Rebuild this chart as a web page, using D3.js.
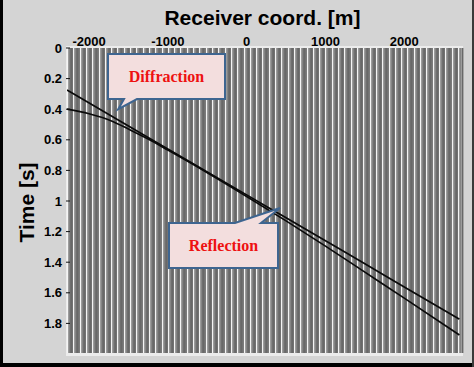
<!DOCTYPE html>
<html>
<head>
<meta charset="utf-8">
<script src="https://cdn.jsdelivr.net/npm/d3@7"></script>
<style>
  html, body { margin: 0; padding: 0; background: #d4d4d4; }
  svg { display: block; }
</style>
</head>
<body>
<svg id="chart" width="474" height="367"></svg>
<script>
// ---------- data ----------
const xTicks = [-2000, -1000, 0, 1000, 2000];
const yTicks = [0, 0.2, 0.4, 0.6, 0.8, 1, 1.2, 1.4, 1.6, 1.8];
const xTickLabels = ["-2000", "-1000", "0", "1000", "2000"];
const yTickLabels = ["0", "0.2", "0.4", "0.6", "0.8", "1", "1.2", "1.4", "1.6", "1.8"];

// trace (receiver) positions in m
const traceStart = -2280, traceEnd = 2720, traceStep = 80;

// reflection event: starts at 0.275 s on the left (near-linear moveout)
const reflX = [-2280, -1500, -1000, -500, 0, 500, 1000, 1500, 2000, 2700];
const reflT = [0.275, 0.51, 0.66, 0.81, 0.96, 1.11, 1.26, 1.41, 1.562, 1.772];
// diffraction event: starts at 0.40 s on the left (hyperbolic, tangent to reflection)
const diffX = [-2280, -2000, -1700, -1500, -1250, -1000, -500, 0, 500, 1000, 1500, 2000, 2700];
const diffT = [0.40, 0.43, 0.48, 0.53, 0.595, 0.667, 0.815, 0.97, 1.13, 1.295, 1.465, 1.635, 1.876];

const calloutLabels = ["Diffraction", "Reflection"];

// ---------- drawing ----------
const svg = d3.select("#chart");
const W = 474, H = 367;

const x = d3.scaleLinear().domain([-2280, 2720]).range([67, 461]);
const y = d3.scaleLinear().domain([0, 2]).range([48, 354]);

// outer frame
svg.append("rect").attr("x", 0).attr("y", 0).attr("width", W).attr("height", H).attr("fill", "#d4d4d4");
svg.append("rect").attr("x", 0).attr("y", 0).attr("width", 3).attr("height", H).attr("fill", "#000");
svg.append("rect").attr("x", 0).attr("y", 363).attr("width", W).attr("height", 4).attr("fill", "#000");
svg.append("rect").attr("x", 472).attr("y", 0).attr("width", 2).attr("height", H).attr("fill", "#3a3a3a");

// plot area frame (light)
svg.append("rect")
  .attr("x", x.range()[0] - 1).attr("y", y.range()[0] - 2)
  .attr("width", x.range()[1] - x.range()[0] + 3).attr("height", y.range()[1] - y.range()[0] + 4)
  .attr("fill", "#ececec");
svg.append("rect")
  .attr("x", x.range()[0]).attr("y", y.range()[0])
  .attr("width", x.range()[1] - x.range()[0]).attr("height", y.range()[1] - y.range()[0] - 1)
  .attr("fill", "#7b7b7b");

// traces
const traces = d3.range(traceStart, traceEnd, traceStep);
const tg = svg.append("g");
traces.forEach(r => {
  const px = Math.round(x(r));
  tg.append("rect").attr("x", px).attr("y", y.range()[0]).attr("width", 1)
    .attr("height", y.range()[1] - y.range()[0] - 1).attr("fill", "#f4f4f4");
  tg.append("rect").attr("x", px + 1).attr("y", y.range()[0]).attr("width", 1.3)
    .attr("height", y.range()[1] - y.range()[0] - 1).attr("fill", "#9c9c9c");
  tg.append("rect").attr("x", px + 3.4).attr("y", y.range()[0]).attr("width", 2)
    .attr("height", y.range()[1] - y.range()[0] - 1).attr("fill", "#686868");
});

// events
const line = d3.line().x(d => x(d[0])).y(d => y(d[1])).curve(d3.curveMonotoneX);
const evRefl = reflX.map((v, i) => [v, reflT[i]]);
const evDiff = diffX.map((v, i) => [v, diffT[i]]);
svg.append("clipPath").attr("id", "clipP").append("rect")
  .attr("x", x.range()[0]).attr("y", y.range()[0])
  .attr("width", x.range()[1] - x.range()[0]).attr("height", y.range()[1] - y.range()[0]);
[evRefl, evDiff].forEach(ev => {
  svg.append("path").datum(ev).attr("d", line).attr("fill", "none")
    .attr("stroke", "#0a0a0a").attr("stroke-width", 1.7).attr("clip-path", "url(#clipP)");
});

// y axis ticks + labels
const font = "Arial, 'Liberation Sans', sans-serif";
yTicks.forEach((t, i) => {
  svg.append("line").attr("x1", 66).attr("x2", 70).attr("y1", y(t)).attr("y2", y(t))
    .attr("stroke", "#111").attr("stroke-width", 1);
  svg.append("text").attr("x", 62).attr("y", y(t)).attr("dy", "0.36em")
    .attr("text-anchor", "end").attr("font-family", font).attr("font-weight", "bold")
    .attr("font-size", 13).attr("fill", "#000").text(yTickLabels[i]);
});
// x axis labels (top)
xTicks.forEach((t, i) => {
  svg.append("text").attr("x", x(t)).attr("y", 46)
    .attr("text-anchor", "middle").attr("font-family", font).attr("font-weight", "bold")
    .attr("font-size", 13).attr("fill", "#000").text(xTickLabels[i]);
});

// titles
svg.append("text").attr("x", 262.5).attr("y", 25).attr("text-anchor", "middle")
  .attr("font-family", font).attr("font-weight", "bold").attr("font-size", 21)
  .attr("fill", "#000").text("Receiver coord. [m]");
svg.append("text").attr("transform", "translate(33.5,202.5) rotate(-90)").attr("text-anchor", "middle")
  .attr("font-family", font).attr("font-weight", "bold").attr("font-size", 21)
  .attr("fill", "#000").text("Time [s]");

// callouts
function callout(box, ptr, label, below) {
  const [x0, y0, x1, y1] = box;
  const [b0, b1, tx, ty] = ptr;
  let p;
  if (below) {
    p = `M${x0},${y0}H${x1}V${y1}H${b1}L${tx},${ty}L${b0},${y1}H${x0}Z`;
  } else {
    p = `M${x0},${y0}H${b0}L${tx},${ty}L${b1},${y0}H${x1}V${y1}H${x0}Z`;
  }
  svg.append("path").attr("d", p).attr("fill", "#f3dede")
    .attr("stroke", "#3e6590").attr("stroke-width", 2).attr("stroke-linejoin", "miter");
  svg.append("text").attr("x", (x0 + x1) / 2).attr("y", (y0 + y1) / 2).attr("dy", "0.35em")
    .attr("text-anchor", "middle").attr("font-family", "'Liberation Serif', 'Times New Roman', serif")
    .attr("font-weight", "bold").attr("font-size", 16).attr("fill", "#ee1111").text(label);
}
callout([108, 54, 225, 99], [124, 137, x(-1630), y(0.40)], calloutLabels[0], true);
callout([169, 223, 278, 268], [235, 261, x(423), y(1.046)], calloutLabels[1], false);
</script>
</body>
</html>
